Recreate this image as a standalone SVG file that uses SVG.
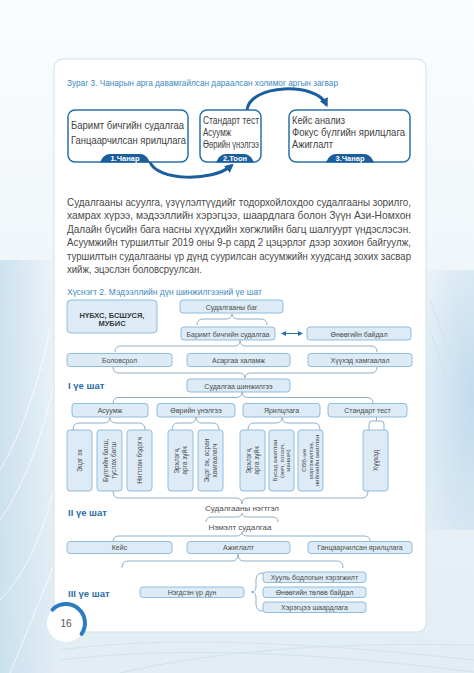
<svg xmlns="http://www.w3.org/2000/svg" width="474" height="673" viewBox="0 0 474 673">
<defs>
<linearGradient id="bg" x1="0" y1="0" x2="0" y2="1">
<stop offset="0" stop-color="#fbfdfe"/>
<stop offset="0.45" stop-color="#eef5f9"/>
<stop offset="1" stop-color="#e2edf4"/>
</linearGradient>
<linearGradient id="side" x1="0" y1="0" x2="1" y2="0">
<stop offset="0" stop-color="#c9dfee" stop-opacity="0.9"/>
<stop offset="1" stop-color="#c9dfee" stop-opacity="0"/>
</linearGradient>
<radialGradient id="rside" cx="1" cy="0.5" r="0.9">
<stop offset="0" stop-color="#bcd8ec" stop-opacity="0.9"/>
<stop offset="1" stop-color="#bcd8ec" stop-opacity="0"/>
</radialGradient>
<marker id="ah" viewBox="0 0 10 10" refX="6" refY="5" markerWidth="9" markerHeight="9" markerUnits="userSpaceOnUse" orient="auto">
<path d="M0,0 L10,5 L0,10 Z" fill="#1b5f9e"/>
</marker>
<marker id="sm" viewBox="0 0 10 10" refX="8" refY="5" markerWidth="5" markerHeight="5" markerUnits="userSpaceOnUse" orient="auto-start-reverse">
<path d="M0,0 L10,5 L0,10 Z" fill="#2a6fa8"/>
</marker>
</defs>
<style>
.big{fill:#fff;stroke:#2a70ab;stroke-width:1.5}
.tab{fill:#1b5e9c}
.tabt{font-family:"Liberation Sans",Arial,sans-serif;font-size:7.5px;font-weight:bold;fill:#fff;text-anchor:middle}
.bt{font-family:"Liberation Sans",Arial,sans-serif;font-size:10.5px;fill:#3f3f3f}
.body{font-family:"Liberation Sans",Arial,sans-serif;font-size:10.5px;fill:#4a4a4a}
.cap{font-family:"Liberation Sans",Arial,sans-serif;font-size:9px;fill:#3d8ac0}
.arr{fill:none;stroke:#1b5f9e;stroke-width:3;stroke-linecap:round}
.bx{fill:#dcebf6;stroke:#86b5d9;stroke-width:0.9}
.t{font-family:"Liberation Sans",Arial,sans-serif;font-size:7px;fill:#4d4d4d;text-anchor:middle}
.vt{font-family:"Liberation Sans",Arial,sans-serif;font-size:6.5px;fill:#4d4d4d;text-anchor:middle}
.br{fill:none;stroke:#8fb0c8;stroke-width:1}
.st{font-family:"Liberation Sans",Arial,sans-serif;font-size:9.5px;font-weight:bold;fill:#2b6ea6}
</style>
<rect width="474" height="673" fill="url(#bg)"/>
<rect x="0" y="260" width="60" height="413" fill="url(#side)"/>
<rect x="400" y="270" width="74" height="260" fill="url(#rside)"/>
<g fill="none" stroke="#ffffff" stroke-opacity="0.7" stroke-width="1">
<path d="M0,470 Q30,420 50,330"/>
<path d="M0,520 Q35,470 55,380"/>
<path d="M0,600 Q40,560 58,470"/>
<path d="M10,673 Q40,600 56,560"/>
</g>
<g fill="none" stroke="#cddfeb" stroke-width="0.8">
<path d="M60,650 Q200,630 474,660"/>
<path d="M60,660 Q220,640 474,672"/>
<path d="M120,673 Q260,640 474,645"/>
<path d="M430,300 Q460,380 474,420"/>
<path d="M430,330 Q455,400 474,460"/>
</g>
<rect x="54" y="59" width="372" height="573" rx="9" fill="#ffffff" stroke="#d3e0e9" stroke-width="1"/>

<text class="cap" x="67" y="86" textLength="271" lengthAdjust="spacingAndGlyphs">Зураг 3. Чанарын арга давамгайлсан дараалсан холимог аргын загвар</text>

<g id="connectors-top">
<path class="arr" d="M150,162 C157,181 212,182 231,166" marker-end="url(#ah)"/>
<path class="arr" d="M247,110 C250,84 316,82 326,104" marker-end="url(#ah)"/>
</g>

<g id="node-chanar1">
<rect class="big" x="68" y="110" width="120" height="52" rx="7"/>
<text class="bt" x="71" y="129" textLength="113" lengthAdjust="spacingAndGlyphs">Баримт бичгийн судалгаа</text>
<text class="bt" x="71" y="144" textLength="115" lengthAdjust="spacingAndGlyphs">Ганцаарчилсан ярилцлага</text>
<path class="tab" d="M100,162.5 C103,155.5 106,154 112,154 H138 C144,154 147,155.5 150,162.5 Z"/>
<text class="tabt" x="125" y="161">1.Чанар</text>
</g>
<g id="node-toon">
<rect class="big" x="200" y="110" width="61" height="52" rx="7"/>
<text class="bt" x="203" y="124" textLength="56" lengthAdjust="spacingAndGlyphs">Стандарт тест</text>
<text class="bt" x="203" y="136" textLength="28" lengthAdjust="spacingAndGlyphs">Асуумж</text>
<text class="bt" x="203" y="148" textLength="56" lengthAdjust="spacingAndGlyphs">Өөрийн үнэлгээ</text>
<path class="tab" d="M216,162.5 C219,155.5 222,154 228,154 H242 C248,154 251,155.5 254,162.5 Z"/>
<text class="tabt" x="235" y="161">2.Тоон</text>
</g>
<g id="node-chanar3">
<rect class="big" x="289" y="110" width="121" height="52" rx="7"/>
<text class="bt" x="292" y="124" textLength="53" lengthAdjust="spacingAndGlyphs">Кейс анализ</text>
<text class="bt" x="292" y="136" textLength="113" lengthAdjust="spacingAndGlyphs">Фокус бүлгийн ярилцлага</text>
<text class="bt" x="292" y="148" textLength="41" lengthAdjust="spacingAndGlyphs">Ажиглалт</text>
<path class="tab" d="M326,162.5 C329,155.5 332,154 338,154 H362 C368,154 371,155.5 374,162.5 Z"/>
<text class="tabt" x="350" y="161">3.Чанар</text>
</g>

<g id="paragraph">
<text class="body" x="67" y="205.5" textLength="344" lengthAdjust="spacingAndGlyphs">Судалгааны асуулга, үзүүлэлтүүдийг тодорхойлохдоо судалгааны зорилго,</text>
<text class="body" x="67" y="219" textLength="344" lengthAdjust="spacingAndGlyphs">хамрах хүрээ, мэдээллийн хэрэгцээ, шаардлага болон Зүүн Ази-Номхон</text>
<text class="body" x="67" y="232.5" textLength="344" lengthAdjust="spacingAndGlyphs">Далайн бүсийн бага насны хүүхдийн хөгжлийн багц шалгуурт үндэслэсэн.</text>
<text class="body" x="67" y="246" textLength="344" lengthAdjust="spacingAndGlyphs">Асуумжийн туршилтыг 2019 оны 9-р сард 2 цэцэрлэг дээр зохион байгуулж,</text>
<text class="body" x="67" y="259.5" textLength="344" lengthAdjust="spacingAndGlyphs">туршилтын судалгааны үр дүнд суурилсан асуумжийн хуудсанд зохих засвар</text>
<text class="body" x="67" y="273" textLength="135" lengthAdjust="spacingAndGlyphs">хийж, эцэслэн боловсруулсан.</text>
</g>

<text class="cap" x="67" y="295" textLength="195" lengthAdjust="spacingAndGlyphs">Хүснэгт 2. Мэдээллийн дүн шинжилгээний үе шат</text>

<g id="connectors">
<path class="br" d="M197,325 Q197,319 203,319 H226 Q232,319 232,314 Q232,319 238,319 H261 Q267,319 267,325"/>
<line x1="282" y1="333.5" x2="302" y2="333.5" stroke="#2a6fa8" stroke-width="1" marker-start="url(#sm)" marker-end="url(#sm)"/>
<path class="br" d="M115,352 Q115,346 121,346 H234 Q240,346 240,340 Q240,346 246,346 H371 Q377,346 377,352"/>
<path class="br" d="M113,367 Q113,373 119,373 H239 Q245,373 245,378 Q245,373 251,373 H371 Q377,373 377,367"/>
<path class="br" d="M113,403 Q113,397.5 119,397.5 H236 Q242,397.5 242,392 Q242,397.5 248,397.5 H367 Q373,397.5 373,403"/>
<path class="br" d="M73,430 Q73,423 79,423 H104 Q110,423 110,417 Q110,423 116,423 H139 Q145,423 145,430"/>
<path class="br" d="M172,430 Q172,423 178,423 H190 Q196,423 196,417 Q196,423 202,423 H213 Q219,423 219,430"/>
<path class="br" d="M248,430 Q248,423 254,423 H276 Q282,423 282,417 Q282,423 288,423 H314 Q320,423 320,430"/>
<path class="br" d="M369,430 V424 Q369,421 372,421 H381 Q384,421 384,424 V430 M376.5,417 V421"/>
<path class="br" d="M113,491 Q113,498 119,498 H236 Q242,498 242,504 Q242,498 248,498 H362 Q368,498 368,491"/>
<path class="br" d="M206,522 Q206,517 212,517 H236 Q242,517 242,513 Q242,517 248,517 H272 Q278,517 278,522"/>
<path class="br" d="M113,541 Q113,536 119,536 H236 Q242,536 242,532 Q242,536 248,536 H364 Q370,536 370,541"/>
<path class="br" d="M122,568 Q122,561 128,561 H232 Q238,561 238,554 Q238,561 244,561 H337 Q343,561 343,568"/>
<path class="br" d="M263,573 Q256,573 256,580 V587 Q256,592 251,592 Q256,592 256,597 V604 Q256,611 263,611"/>
</g>

<g id="node-nubhs">
<rect class="bx" x="67" y="300" width="90" height="33" rx="4"/>
<text class="t" x="112" y="318" style="font-weight:bold;font-size:7.5px;fill:#3a3a3a">НҮБХС, БСШУСЯ,</text>
<text class="t" x="112" y="326" style="font-weight:bold;font-size:7.5px;fill:#3a3a3a">МУБИС</text>
</g>
<g id="node-bag"><rect class="bx" x="180" y="300" width="103" height="13" rx="3"/><text class="t" x="231.5" y="309.5">Судалгааны баг</text></g>
<g id="node-barimt"><rect class="bx" x="181" y="327" width="94" height="13" rx="3"/><text class="t" x="228" y="336.5">Баримт бичгийн судалгаа</text></g>
<g id="node-onoo"><rect class="bx" x="307" y="327" width="104" height="13" rx="3"/><text class="t" x="359" y="336.5">Өнөөгийн байдал</text></g>
<g id="node-bolovsrol"><rect class="bx" x="67" y="353.5" width="105" height="13" rx="3"/><text class="t" x="119.5" y="362.5">Боловсрол</text></g>
<g id="node-asargaa"><rect class="bx" x="187" y="353.5" width="103" height="13" rx="3"/><text class="t" x="238.5" y="362.5">Асаргаа халамж</text></g>
<g id="node-hamgaalal"><rect class="bx" x="308" y="353.5" width="104" height="13" rx="3"/><text class="t" x="360" y="362.5">Хүүхэд хамгаалал</text></g>
<text class="st" x="68" y="389">I үе шат</text>
<g id="node-shinjilgee"><rect class="bx" x="187" y="379" width="103" height="13" rx="3"/><text class="t" x="238.5" y="388.5">Судалгаа шинжилгээ</text></g>
<g id="node-asuumj"><rect class="bx" x="72" y="403.5" width="76" height="13.5" rx="3"/><text class="t" x="110" y="413">Асуумж</text></g>
<g id="node-oorin"><rect class="bx" x="157" y="403.5" width="78" height="13.5" rx="3"/><text class="t" x="196" y="413">Өөрийн үнэлгээ</text></g>
<g id="node-yarilclaga"><rect class="bx" x="243" y="403.5" width="77" height="13.5" rx="3"/><text class="t" x="281.5" y="413">Ярилцлага</text></g>
<g id="node-standart"><rect class="bx" x="328" y="403.5" width="79" height="13.5" rx="3"/><text class="t" x="367.5" y="413">Стандарт тест</text></g>

<g id="node-v1"><rect class="bx" x="67" y="430" width="25" height="61" rx="3"/>
<text class="vt" transform="translate(79.5,460.5) rotate(-90)" x="0" y="2.3">Эцэг эх</text></g>
<g id="node-v2"><rect class="bx" x="97" y="430" width="25" height="61" rx="3"/>
<text class="vt" transform="translate(109.5,460.5) rotate(-90)"><tspan x="0" y="-1.3">Бүлгийн багш,</tspan><tspan x="0" y="6">туслах багш</tspan></text></g>
<g id="node-v3"><rect class="bx" x="127" y="430" width="25" height="61" rx="3"/>
<text class="vt" transform="translate(139.5,460.5) rotate(-90)" x="0" y="2.3">Нягтлан бодогч</text></g>
<g id="node-v4"><rect class="bx" x="168" y="430" width="25" height="61" rx="3"/>
<text class="vt" transform="translate(180.5,460.5) rotate(-90)"><tspan x="0" y="-1.3">Эрхлэгч,</tspan><tspan x="0" y="6">арга зүйч</tspan></text></g>
<g id="node-v5"><rect class="bx" x="198" y="430" width="25" height="61" rx="3"/>
<text class="vt" transform="translate(210.5,460.5) rotate(-90)"><tspan x="0" y="-1.3">Эцэг эх, асран</tspan><tspan x="0" y="6">хамгаалагч</tspan></text></g>
<g id="node-v6"><rect class="bx" x="240" y="430" width="25" height="61" rx="3"/>
<text class="vt" transform="translate(252.5,460.5) rotate(-90)"><tspan x="0" y="-1.3">Эрхлэгч,</tspan><tspan x="0" y="6">арга зүйч</tspan></text></g>
<g id="node-v7"><rect class="bx" x="269" y="430" width="25" height="61" rx="3"/>
<text class="vt" transform="translate(281.5,460.5) rotate(-90)" style="font-size:6px"><tspan x="0" y="-4.6">Бусад ажилтан</tspan><tspan x="0" y="2">(эмч, тогооч,</tspan><tspan x="0" y="8.6">манаач)</tspan></text></g>
<g id="node-v8"><rect class="bx" x="298" y="430" width="25" height="61" rx="3"/>
<text class="vt" transform="translate(310.5,460.5) rotate(-90)" style="font-size:6px"><tspan x="0" y="-4.6">СӨБ-ын</tspan><tspan x="0" y="2">мэргэжилтэн,</tspan><tspan x="0" y="8.6">нийгмийн ажилтан</tspan></text></g>
<g id="node-huuhed"><rect class="bx" x="363" y="430" width="25" height="61" rx="3"/>
<text class="vt" transform="translate(375.5,460.5) rotate(-90)" x="0" y="2.3">Хүүхэд</text></g>

<text class="t" x="242" y="510.5" style="font-size:8px">Судалгааны нэгтгэл</text>
<text class="st" x="68" y="516">II үе шат</text>
<text class="t" x="240" y="530" style="font-size:8px">Нэмэлт судалгаа</text>

<g id="node-keis"><rect class="bx" x="67" y="541.5" width="105" height="12" rx="3"/><text class="t" x="119.5" y="550.3">Кейс</text></g>
<g id="node-ajiglalt"><rect class="bx" x="187" y="541.5" width="103" height="12" rx="3"/><text class="t" x="238.5" y="550.3">Ажиглалт</text></g>
<g id="node-gantsaar"><rect class="bx" x="308" y="541.5" width="104" height="12" rx="3"/><text class="t" x="360" y="550.3">Ганцаарчилсан ярилцлага</text></g>

<text class="st" x="68" y="597">III үе шат</text>
<g id="node-negdsen"><rect class="bx" x="140" y="587" width="104" height="10.5" rx="3"/><text class="t" x="192" y="594.8">Нэгдсэн үр дүн</text></g>
<g id="node-huuli"><rect class="bx" x="263" y="572" width="103" height="10.5" rx="3"/><text class="t" x="314.5" y="579.8">Хууль бодлогын хэрэгжилт</text></g>
<g id="node-tuluv"><rect class="bx" x="263" y="587" width="103" height="10.5" rx="3"/><text class="t" x="314.5" y="594.8">Өнөөгийн төлөв байдал</text></g>
<g id="node-heregtsee"><rect class="bx" x="263" y="602" width="103" height="10.5" rx="3"/><text class="t" x="314.5" y="609.8">Хэрэгцээ шаардлага</text></g>

<g id="page-number">
<circle cx="66" cy="623" r="19" fill="#ffffff"/>
<path d="M52.6,609.6 A19,19 0 0 1 81.6,633.9" fill="none" stroke="#2b7bc0" stroke-width="4" stroke-linecap="round"/>
<text x="66" y="627" font-family="Liberation Sans, Arial, sans-serif" font-size="10" fill="#555555" text-anchor="middle">16</text>
</g>
</svg>
